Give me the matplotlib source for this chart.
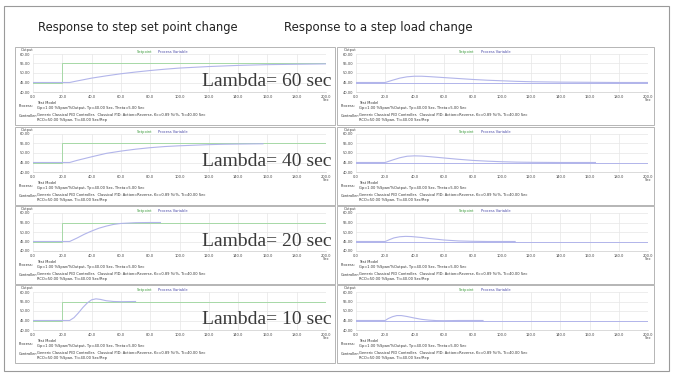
import matplotlib.pyplot as plt
from matplotlib.patches import Rectangle

# Set point step (left column) and constant set point (right column)
sp_step_t = [0, 20, 20, 200]
sp_step_v = [45, 45, 55, 55]
sp_load_t = [0, 200]
sp_load_v = [45, 45]

lambdas = ["60", "40", "20", "10"]

# Process variable, set point change
pv_sp_t = [
    [0, 20, 25, 30, 40, 50, 60, 70, 80, 90, 100, 120, 140, 160, 180, 200],
    [0, 20, 25, 30, 40, 50, 60, 70, 80, 90, 100, 110, 120, 130, 140, 150, 157],
    [0, 20, 25, 30, 35, 40, 45, 50, 55, 60, 70, 80, 87],
    [0, 20, 25, 28, 31, 34, 37, 40, 43, 46, 50, 55, 60, 70],
]
pv_sp_v = [
    [45, 45, 45, 45.8, 47.3, 48.5, 49.6, 50.5, 51.3, 52.0, 52.6, 53.4, 54.0, 54.4, 54.6, 54.8],
    [45, 45, 45, 46.1, 48.0, 49.8, 51.0, 52.0, 52.8, 53.4, 53.8, 54.1, 54.4, 54.6, 54.7, 54.8, 54.85],
    [45, 45, 45, 46.8, 48.8, 50.5, 52.0, 53.1, 54.0, 54.5, 54.9, 55.0, 55.0],
    [45, 45, 45, 46.5, 49.0, 51.8, 54.2, 55.9, 56.4, 56.1, 55.4, 55.0, 54.9, 55.0],
]

# Process variable, load change
pv_ld_t = [
    [0, 20, 25, 30, 35, 40, 45, 50, 60, 70, 80, 90, 100, 110, 120, 140, 160, 180, 200],
    [0, 20, 25, 30, 35, 40, 45, 50, 60, 70, 80, 90, 100, 110, 120, 140, 164],
    [0, 20, 23, 26, 30, 34, 38, 45, 50, 60, 70, 80, 90, 109],
    [0, 20, 22, 25, 28, 31, 35, 40, 45, 50, 55, 60, 70, 87],
]
pv_ld_v = [
    [45, 45, 46.2, 47.3, 48.0, 48.3, 48.3, 48.1, 47.6, 47.1, 46.6, 46.2, 45.9, 45.6, 45.4, 45.2, 45.1, 45.0, 45.0],
    [45, 45, 46.3, 47.5, 48.3, 48.5, 48.4, 48.1, 47.4, 46.7, 46.1, 45.7, 45.4, 45.2, 45.1, 45.0, 45.0],
    [45, 45, 46.0, 46.9, 47.5, 47.7, 47.6, 47.1, 46.6, 45.8, 45.3, 45.1, 45.0, 45.0],
    [45, 45, 46.0, 47.0, 47.6, 47.6, 47.1, 46.3, 45.6, 45.2, 44.95, 44.9, 45.0, 45.0],
]

x_ticks = [0, 20, 40, 60, 80, 100, 120, 140, 160, 180, 200]
y_ticks = [40, 45, 50, 55, 60]

W, H = 675, 378
def fx(p):
    return p / W
def fy(p):
    return 1 - p / H

fig = plt.figure(figsize=(6.75, 3.78), dpi=100)
fig.patch.set_facecolor("white")

# outer frame
fig.patches.append(Rectangle((fx(4), fy(371)), 665 / W, 365 / H, transform=fig.transFigure,
                             fill=False, ec="#9a9a9a", lw=0.8, zorder=-2))

fig.text(fx(138), fy(27), "Response to step set point change", ha="center", va="center",
         fontsize=8.3, color="#222222")
fig.text(fx(378), fy(27), "Response to a step load change", ha="center", va="center",
         fontsize=8.5, color="#222222")

tops = [47, 127, 206, 285]
cols = [(15, 335, 33, 326), (337, 654, 356, 648)]
green = "#a6d9a6"
blue = "#b2b5ea"
tiny = 2.6

for c, (x0, x1, ax0, ax1) in enumerate(cols):
    for r, top in enumerate(tops):
        fig.patches.append(Rectangle((fx(x0), fy(top + 78)), (x1 - x0) / W, 78 / H,
                                     transform=fig.transFigure, fc="white", ec="#b5b5b5", lw=0.7,
                                     zorder=-1))
        ax = fig.add_axes([fx(ax0), fy(top + 45), (ax1 - ax0) / W, 38 / H])
        ax.set_xlim(0, 200)
        ax.set_ylim(40, 60)
        ax.set_xticks(x_ticks)
        ax.set_yticks(y_ticks)
        ax.set_xticklabels(["%.1f" % v for v in x_ticks], fontsize=tiny, color="#444444")
        ax.set_yticklabels(["%.2f" % v for v in y_ticks], fontsize=tiny, color="#444444")
        ax.tick_params(length=0, pad=2)
        ax.grid(True, color="#e6e6e6", lw=0.5)
        for s in ax.spines.values():
            s.set_visible(False)
        ax.spines["bottom"].set_visible(True)
        ax.spines["bottom"].set_color("#cccccc")
        ax.spines["bottom"].set_linewidth(0.5)
        ax.set_facecolor("white")

        if c == 0:
            ax.plot(sp_step_t, sp_step_v, color=green, lw=0.7)
            ax.plot(pv_sp_t[r], pv_sp_v[r], color=blue, lw=0.8)
        else:
            ax.plot(sp_load_t, sp_load_v, color=blue, lw=0.7)
            ax.plot(pv_ld_t[r], pv_ld_v[r], color=blue, lw=0.8)

        # small screenshot texts
        fig.text(fx(ax0 - 12), fy(top + 3), "Output", fontsize=tiny, color="#444444", va="center")
        fig.text(fx(ax1), fy(top + 53), "Sec", fontsize=tiny, color="#444444", ha="center", va="center")
        lx = ax0 + (ax1 - ax0) * 0.38
        fig.text(fx(lx), fy(top + 5), "Setpoint", fontsize=tiny, color="#3a9a3a", ha="center", va="center")
        fig.text(fx(lx + 14), fy(top + 5), "Process Variable", fontsize=tiny, color="#4a4aa8",
                 ha="left", va="center")
        fig.text(fx(x0 + 4), fy(top + 59), "Process:", fontsize=tiny, color="#333333", va="center")
        fig.text(fx(x0 + 22), fy(top + 58.5),
                 "Test Model\nGp=1.00 %Span/%Output, Tp=40.00 Sec, Theta=5.00 Sec",
                 fontsize=tiny, color="#333333", va="center", linespacing=1.1)
        fig.text(fx(x0 + 4), fy(top + 69), "Controller:", fontsize=tiny, color="#333333", va="center")
        fig.text(fx(x0 + 22), fy(top + 70.5),
                 "Generic Classical PID Controller,  Classical PID: Action=Reverse, Kc=0.89 %/%, Ti=40.00 Sec\n"
                 "RCO=50.00 %Span, Ti=40.00 Sec/Rep",
                 fontsize=tiny, color="#333333", va="center", linespacing=1.1)

        if c == 0:
            fig.text(fx(332), fy(top + 35), "Lambda= %s sec" % lambdas[r], ha="right", va="center",
                     fontsize=14, family="Liberation Serif", color="#3a3a3a")

fig.savefig("out.png", dpi=100)
